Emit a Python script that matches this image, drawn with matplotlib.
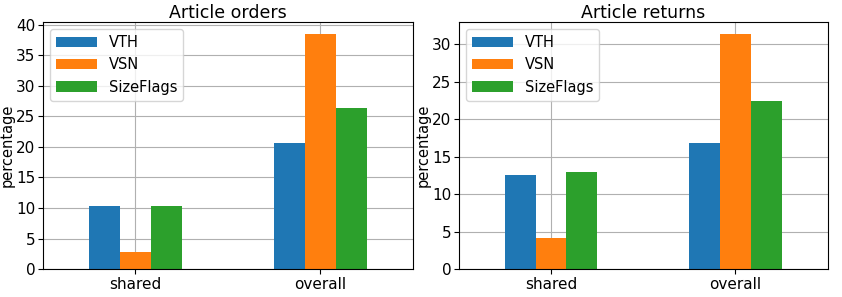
import numpy as np
import matplotlib.pyplot as plt
from matplotlib.ticker import MultipleLocator

groups = ["shared", "overall"]
series = ["VTH", "VSN", "SizeFlags"]
colors = ["#1f77b4", "#ff7f0e", "#2ca02c"]

orders_vth = [10.4, 20.6]
orders_vsn = [2.8, 38.5]
orders_sf = [10.4, 26.4]

returns_vth = [12.6, 16.8]
returns_vsn = [4.2, 31.4]
returns_sf = [12.9, 22.4]

fig = plt.figure(figsize=(8.42, 2.97), dpi=100)
ax1 = fig.add_axes([0.051, 0.094, 0.4395, 0.832])
ax2 = fig.add_axes([0.545, 0.094, 0.438, 0.832])


def draw(ax, title, vals):
    x = np.arange(len(groups))
    w = 0.5 / len(series)
    for i, (name, v) in enumerate(zip(series, vals)):
        ax.bar(x + (i - 1) * w, v, w, color=colors[i], label=name, zorder=2)
    ax.set_xticks(x)
    ax.set_xticklabels(groups, fontsize=11)
    ax.set_xlim(-0.5, 1.5)
    ax.yaxis.set_major_locator(MultipleLocator(5))
    ax.tick_params(axis='y', labelsize=11, pad=2)
    ax.tick_params(axis='x', pad=2)
    ax.set_ylabel("percentage", fontsize=10.5, labelpad=1)
    ax.set_title(title, fontsize=12.5, pad=3)
    ax.grid(True, color="#b0b0b0", linewidth=0.8, zorder=0)
    ax.legend(loc="upper left", fontsize=10.5, handlelength=2.8)


draw(ax1, "Article orders", [orders_vth, orders_vsn, orders_sf])
draw(ax2, "Article returns", [returns_vth, returns_vsn, returns_sf])

fig.savefig("out.png", dpi=100)
